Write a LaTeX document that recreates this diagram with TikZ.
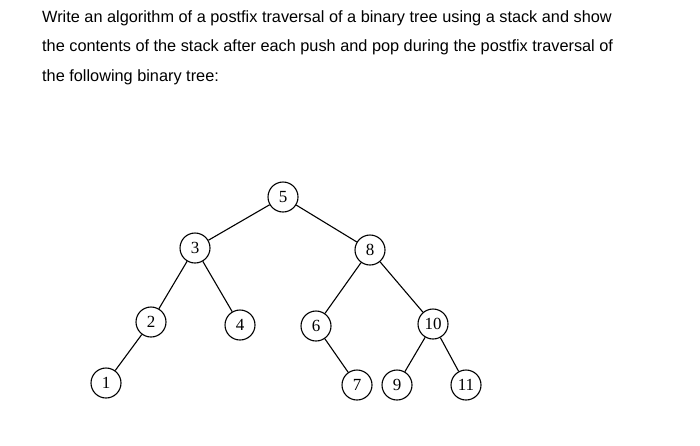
\documentclass[tikz,border=0pt]{standalone}
\usepackage{fontspec}
\setmainfont{Liberation Serif}
\newfontfamily\arialf{Liberation Sans}
\begin{document}
\begin{tikzpicture}[x=1pt,y=-1pt,
  txt/.style={anchor=west,inner sep=0pt,font=\arialf\fontsize{16.3}{18}\selectfont},
  tn/.style={circle,draw,line width=1.1pt,minimum size=30pt,inner sep=0pt,font=\fontsize{17}{18}\selectfont},
  ed/.style={line width=1.1pt}]
\useasboundingbox (0,0) rectangle (700,445);
\node[txt] (l1) at (42,18) {Write an algorithm of a postfix traversal of a binary tree using a stack and show};
\node[txt] (l2) at (42,47) {the contents of the stack after each push and pop during the postfix traversal of};
\node[txt] (l3) at (42,77) {the following binary tree:};
\node[tn] (n5) at (283,197) {5};
\node[tn] (n3) at (195,248) {3};
\node[tn] (n8) at (370,250) {8};
\node[tn] (n2) at (151,322) {2};
\node[tn] (n4) at (240,325) {4};
\node[tn] (n6) at (316,326) {6};
\node[tn] (n10) at (433,324) {10};
\node[tn] (n1) at (106,383) {1};
\node[tn] (n7) at (357,385) {7};
\node[tn] (n9) at (397,385) {9};
\node[tn] (n11) at (466,385) {11};
\draw[ed] (n5)--(n3); \draw[ed] (n5)--(n8);
\draw[ed] (n3)--(n2); \draw[ed] (n3)--(n4);
\draw[ed] (n2)--(n1);
\draw[ed] (n8)--(n6); \draw[ed] (n8)--(n10);
\draw[ed] (n6)--(n7);
\draw[ed] (n10)--(n9); \draw[ed] (n10)--(n11);
\end{tikzpicture}
\end{document}
